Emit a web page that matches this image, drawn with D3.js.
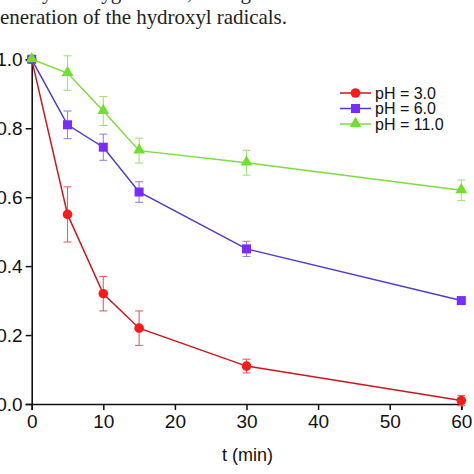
<!DOCTYPE html>
<html>
<head>
<meta charset="utf-8">
<script src="https://cdn.jsdelivr.net/npm/d3@7"></script>
<style>
  body { margin: 0; background: #fff; }
  svg { display: block; }
</style>
</head>
<body>
<div id="chart"></div>
<script>
// time points (min)
var times = [0, 5, 10, 15, 30, 60];

// C/C0 values
var ph3 = [1.0, 0.55, 0.32, 0.22, 0.11, 0.01];
var ph6 = [1.0, 0.81, 0.745, 0.615, 0.45, 0.30];
var ph11 = [1.0, 0.96, 0.85, 0.735, 0.70, 0.62];

// error bar half-widths
var ph3Err = [0.0, 0.08, 0.05, 0.05, 0.02, 0.015];
var ph6Err = [0.0, 0.04, 0.038, 0.03, 0.022, 0.01];
var ph11Err = [0.0, 0.05, 0.042, 0.036, 0.036, 0.03];

var xTicks = [0, 10, 20, 30, 40, 50, 60];
var yTicks = [0.0, 0.2, 0.4, 0.6, 0.8, 1.0];
var legendLabels = ["pH = 3.0", "pH = 6.0", "pH = 11.0"];

var series = [
  { name: legendLabels[0], vals: ph3, err: ph3Err, shape: "circle",
    line: "#c9191f", fill: "#ff1a1a", errColor: "#e0606e" },
  { name: legendLabels[1], vals: ph6, err: ph6Err, shape: "square",
    line: "#4b3ccd", fill: "#7a2cff", errColor: "#9c82e6" },
  { name: legendLabels[2], vals: ph11, err: ph11Err, shape: "triangle",
    line: "#7ddc3e", fill: "#6fe02c", errColor: "#a2e27a" }
];

var W = 474, H = 474;
var svg = d3.select("#chart").append("svg")
  .attr("width", W).attr("height", H);

// caption text from the page above the figure (cropped by the picture edges)
svg.append("text")
  .attr("x", 0).attr("y", -1)
  .attr("font-family", "'Liberation Serif', serif")
  .attr("font-size", 21)
  .attr("textLength", 296)
  .attr("fill", "#222")
  .text("tion by the oxygen atoms, leading to the");
svg.append("text")
  .attr("x", 0).attr("y", 24)
  .attr("font-family", "'Liberation Serif', serif")
  .attr("font-size", 21)
  .attr("textLength", 287)
  .attr("fill", "#222")
  .text("eneration of the hydroxyl radicals.");

var x = d3.scaleLinear().domain([0, 60]).range([31.7, 461.3]);
var y = d3.scaleLinear().domain([0, 1]).range([404, 59.3]);

var left = x(0), right = x(60.4), top = y(1.009), bottom = y(0);

// plot frame
svg.append("rect")
  .attr("x", left).attr("y", top)
  .attr("width", right - left).attr("height", bottom - top)
  .attr("fill", "none").attr("stroke", "#111").attr("stroke-width", 1.6);

var font = "'Liberation Sans', Arial, sans-serif";

var xAxis = svg.append("g")
  .attr("transform", "translate(0," + bottom + ")")
  .call(d3.axisBottom(x).tickValues(xTicks).tickSize(6).tickPadding(5)
    .tickFormat(d3.format("d")));
var yAxis = svg.append("g")
  .attr("transform", "translate(" + left + ",0)")
  .call(d3.axisLeft(y).tickValues(yTicks).tickSize(6).tickPadding(3)
    .tickFormat(d3.format(".1f")));

[xAxis, yAxis].forEach(function (g) {
  g.select(".domain").attr("stroke", "#111").attr("stroke-width", 1.6);
  g.selectAll(".tick line").attr("stroke", "#111").attr("stroke-width", 1.5);
  g.selectAll(".tick text").attr("font-family", font).attr("font-size", 19)
    .attr("fill", "#111");
});

svg.append("text")
  .attr("x", (x(0) + x(60)) / 2 + 1)
  .attr("y", 461)
  .attr("text-anchor", "middle")
  .attr("font-family", font)
  .attr("font-size", 18)
  .attr("fill", "#111")
  .text("t (min)");

var line = d3.line()
  .x(function (d, i) { return x(times[i]); })
  .y(function (d) { return y(d); });

function drawMarker(g, shape, cx, cy, fill) {
  if (shape === "circle") {
    g.append("circle").attr("cx", cx).attr("cy", cy).attr("r", 4.8)
      .attr("fill", fill);
  } else if (shape === "square") {
    g.append("rect").attr("x", cx - 4.5).attr("y", cy - 4.5)
      .attr("width", 9).attr("height", 9).attr("fill", fill);
  } else {
    g.append("path")
      .attr("d", d3.symbol().type(d3.symbolTriangle).size(60)())
      .attr("transform", "translate(" + cx + "," + (cy - 0.5) + ")")
      .attr("fill", fill);
  }
}

series.forEach(function (s) {
  var g = svg.append("g");
  // error bars
  s.vals.forEach(function (v, i) {
    if (s.err[i] <= 0) return;
    var cx = x(times[i]), y1 = y(v + s.err[i]), y2 = y(v - s.err[i]);
    g.append("line").attr("x1", cx).attr("x2", cx).attr("y1", y1).attr("y2", y2)
      .attr("stroke", s.errColor).attr("stroke-width", 1.1);
    [y1, y2].forEach(function (yy) {
      g.append("line").attr("x1", cx - 4).attr("x2", cx + 4)
        .attr("y1", yy).attr("y2", yy)
        .attr("stroke", s.errColor).attr("stroke-width", 1.1);
    });
  });
  g.append("path").datum(s.vals).attr("d", line)
    .attr("fill", "none").attr("stroke", s.line).attr("stroke-width", 1.5);
  s.vals.forEach(function (v, i) {
    drawMarker(g, s.shape, x(times[i]), y(v), s.fill);
  });
});

// legend
var legend = svg.append("g");
series.forEach(function (s, i) {
  var ly = 93 + i * 15.5;
  legend.append("line").attr("x1", 340).attr("x2", 371)
    .attr("y1", ly).attr("y2", ly)
    .attr("stroke", s.line).attr("stroke-width", 1.5);
  drawMarker(legend, s.shape, 355.5, ly, s.fill);
  legend.append("text")
    .attr("x", 375).attr("y", ly + 5.5)
    .attr("font-family", font).attr("font-size", 16)
    .attr("fill", "#111")
    .text(s.name);
});
</script>
</body>
</html>
